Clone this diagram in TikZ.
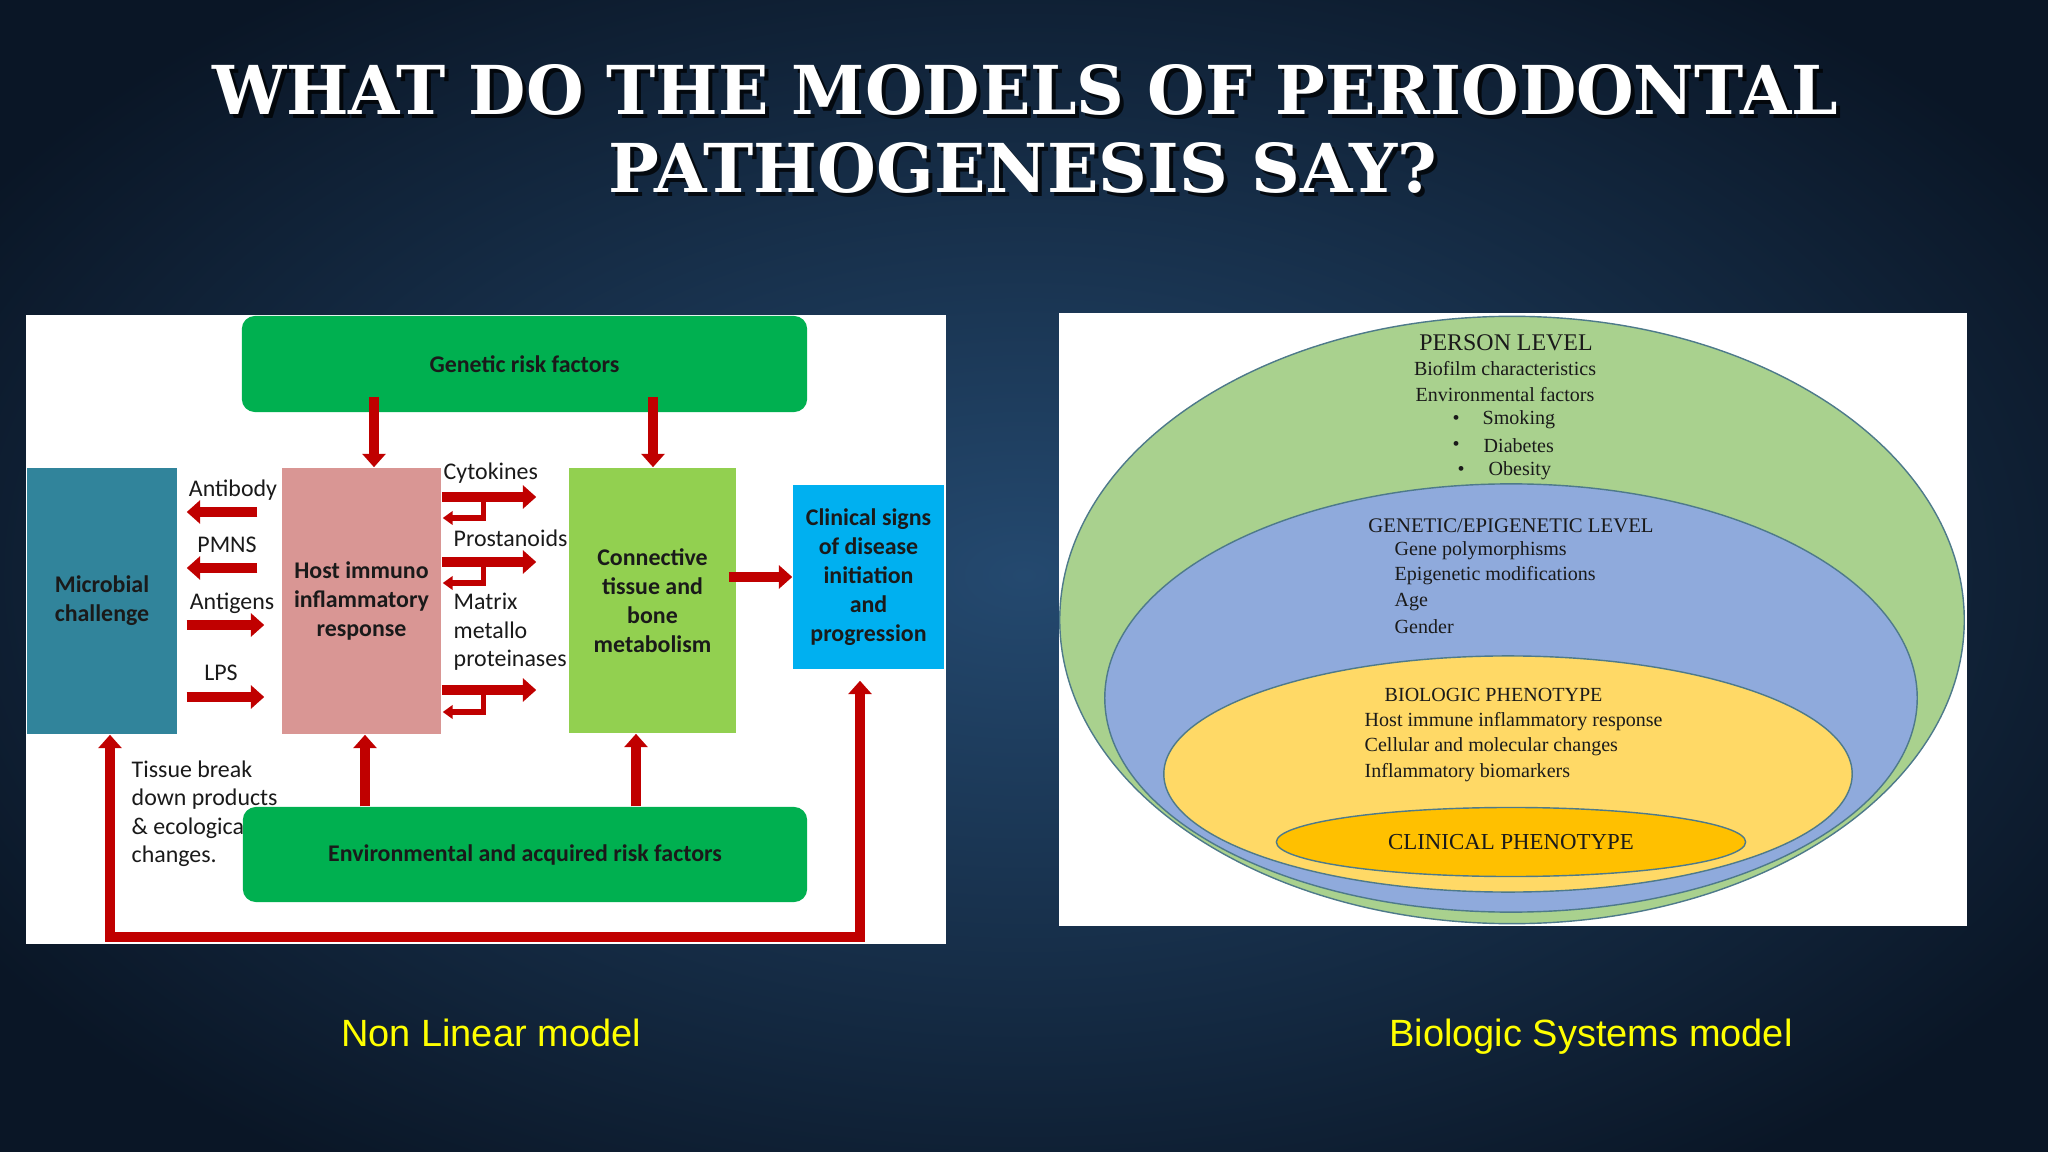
\documentclass[tikz,border=0pt]{standalone}
\usepackage{fontspec}
\setmainfont{Liberation Serif}
\newfontfamily\calib{Carlito}
\newfontfamily\arialf{Liberation Sans}
\newfontfamily\titlef{DejaVu Serif}
\usetikzlibrary{shapes.geometric,arrows.meta,calc}
\definecolor{bgin}{HTML}{24496F}
\definecolor{bgout}{HTML}{0A1626}
\definecolor{cGreen}{HTML}{00B050}
\definecolor{cMicro}{HTML}{31849B}
\definecolor{cHost}{HTML}{D99694}
\definecolor{cConn}{HTML}{92D050}
\definecolor{cClin}{HTML}{00B0F0}
\definecolor{cRed}{HTML}{C00000}
\definecolor{eGreen}{HTML}{A9D18E}
\definecolor{eBlue}{HTML}{8FAADC}
\definecolor{eYel}{HTML}{FFD966}
\definecolor{eOr}{HTML}{FFC000}
\definecolor{eLine}{HTML}{4E7A8A}
\definecolor{capY}{HTML}{FFFF00}
\definecolor{txt}{HTML}{1A1A1A}
\tikzset{
  box/.style={draw=none, inner sep=0pt, align=center, text=txt,
    font=\calib\bfseries\fontsize{6.8}{8.2}\selectfont},
  lab/.style={inner sep=0pt, text=txt, font=\calib\fontsize{6.8}{8.1}\selectfont},
  blk/.style={draw=cRed, line width=3pt, -{Triangle[width=6.5pt,length=3.8pt]}},
  hk/.style={draw=cRed, line width=1.5pt, -{Triangle[width=3.8pt,length=2.8pt]}},
  lvl/.style={ellipse, draw=eLine, line width=0.4pt, inner sep=0pt},
  rt/.style={inner sep=0pt, text=txt, font=\fontsize{5.7}{7.25}\selectfont},
  captxt/.style={inner sep=0pt, anchor=base, text=capY, font=\arialf\fontsize{10.8}{13}\selectfont},
}
\begin{document}
\begin{tikzpicture}[x=0.01cm, y=-0.01cm]
\useasboundingbox (0,0) rectangle (2048,1152);
\shade[inner color=bgin, outer color=bgout] (-200,-150) rectangle (2248,1300);

% title shadow
\node[anchor=base, inner sep=0pt, text=black, opacity=0.75] (title1s) at (1029,119)
    {\resizebox{16.25cm}{0.50cm}{\titlef\bfseries WHAT DO THE MODELS OF PERIODONTAL}};
\node[anchor=base, inner sep=0pt, text=black, opacity=0.75] (title2s) at (1027,197)
    {\resizebox{8.28cm}{0.50cm}{\titlef\bfseries PATHOGENESIS SAY?}};
\node[anchor=base, inner sep=0pt, text=white] (title1) at (1025,115)
    {\resizebox{16.25cm}{0.50cm}{\titlef\bfseries WHAT DO THE MODELS OF PERIODONTAL}};
\node[anchor=base, inner sep=0pt, text=white] (title2) at (1023,193)
    {\resizebox{8.28cm}{0.50cm}{\titlef\bfseries PATHOGENESIS SAY?}};

% ---------------- left panel ----------------
\fill[white] (26,315) rectangle (946,944);

\node[lab, align=left, anchor=north west] (tissue) at (131,760)
  {Tissue break\\down products\\\& ecological\\changes.};

\node[box, fill=cGreen, rounded corners=0.13cm, minimum width=5.65cm, minimum height=0.96cm] (gen) at (524.5,364) {Genetic risk factors};
\node[box, fill=cGreen, rounded corners=0.13cm, minimum width=5.64cm, minimum height=0.95cm] (env) at (525,854.5) {Environmental and acquired risk factors};
\node[box, fill=cMicro, minimum width=1.50cm, minimum height=2.66cm] (micro) at (102,601) {Microbial\\challenge};
\node[box, fill=cHost, minimum width=1.59cm, minimum height=2.66cm] (host) at (361.5,601) {Host immuno\\inflammatory\\response};
\node[box, fill=cConn, minimum width=1.67cm, minimum height=2.65cm] (conn) at (652.5,600.5) {Connective\\tissue and\\bone\\metabolism};
\node[box, fill=cClin, minimum width=1.51cm, minimum height=1.84cm] (clin) at (868.5,577) {Clinical signs\\of disease\\initiation\\and\\progression};

% vertical arrows
\coordinate (g1) at (374,397);
\coordinate (g2) at (653,397);
\coordinate (e1) at (365,0);
\coordinate (e2) at (636,0);
\draw[blk] (g1) -- (g1 |- host.north);
\draw[blk] (g2) -- (g2 |- conn.north);
\draw[blk] (env.north -| e1) -- (e1 |- host.south);
\draw[blk] (env.north -| e2) -- (e2 |- conn.south);
\draw[blk] ($(conn.east |- clin.west)+(-8,0)$) -- (clin.west);

% feedback loop
\coordinate (lpL) at (110,937);
\coordinate (lpR) at (860,937);
\draw[cRed, line width=2.8pt, {Triangle[width=6.5pt,length=3.8pt]}-{Triangle[width=6.5pt,length=3.8pt]}]
  (micro.south -| lpL) -- (lpL) -- (lpR) -- ($(clin.south -| lpR)+(0,11)$);

% left labels and arrows
\node[lab] (lAb) at (233,490) {Antibody};
\node[lab] (lPm) at (227,545) {PMNS};
\node[lab] (lAg) at (232,603) {Antigens};
\node[lab] (lLp) at (221,673) {LPS};
\coordinate (yAb) at (0,512);
\coordinate (yPm) at (0,568);
\coordinate (yAg) at (0,625);
\coordinate (yLp) at (0,697);
\draw[blk] ($(host.west |- yAb)+(-24,0)$) -- ($(micro.east |- yAb)+(9,0)$);
\draw[blk] ($(host.west |- yPm)+(-24,0)$) -- ($(micro.east |- yPm)+(9,0)$);
\draw[blk] ($(micro.east |- yAg)+(9,0)$) -- ($(host.west |- yAg)+(-17,0)$);
\draw[blk] ($(micro.east |- yLp)+(9,0)$) -- ($(host.west |- yLp)+(-17,0)$);

% right-of-host labels and arrows
\node[lab, anchor=west] (lCy) at (443,473) {Cytokines};
\node[lab, anchor=west] (lPr) at (453,538) {Prostanoids};
\node[lab, anchor=west, align=left] (lMm) at (453,632) {Matrix\\metallo\\proteinases};
\foreach \ya/\yb in {497/518, 562/583, 690/712} {
  \coordinate (ya) at (0,\ya);
  \coordinate (yb) at (0,\yb);
  \draw[blk] (host.east |- ya) -- ($(conn.west |- ya)+(-32,0)$);
  \draw[hk, line cap=butt] ($(host.east |- ya)+(42,0)$) |- ($(host.east |- yb)+(1,0)$);
}

% ---------------- right panel ----------------
\fill[white] (1059,313) rectangle (1967,926);
\node[lvl, fill=eGreen, minimum width=9.04cm, minimum height=6.07cm] (person) at (1512,620) {};
\node[lvl, fill=eBlue, minimum width=8.12cm, minimum height=4.28cm] (genetic) at (1511,698) {};
\node[lvl, fill=eYel, minimum width=6.88cm, minimum height=2.36cm] (bio) at (1508,774) {};
\node[lvl, fill=eOr, minimum width=4.69cm, minimum height=0.69cm] (clinph) at (1511,842) {};

\node[rt, font=\fontsize{6.8}{8}\selectfont] (pl) at (1506,343) {PERSON LEVEL};
\node[rt] (p1) at (1505,369) {Biofilm characteristics};
\node[rt] (p2) at (1505,395) {Environmental factors};
\node[rt] (bu1) at (1456,420) {•};
\node[rt, anchor=west] (p3) at (1482,420) {Smoking};
\node[rt] (bu2) at (1456,446) {•};
\node[rt, anchor=west] (p4) at (1483,446) {Diabetes};
\node[rt] (bu3) at (1461,471) {•};
\node[rt, anchor=west] (p5) at (1488,471) {Obesity};

\node[rt, font=\fontsize{5.9}{7.25}\selectfont] (gl) at (1511,526) {GENETIC/EPIGENETIC LEVEL};
\node[rt, anchor=west] (g1t) at (1394,551) {Gene polymorphisms};
\node[rt, anchor=west] (g2t) at (1394,576) {Epigenetic modifications};
\node[rt, anchor=west] (g3t) at (1394,602) {Age};
\node[rt, anchor=west] (g4t) at (1394,627) {Gender};

\node[rt, anchor=west] (bl) at (1384,695) {BIOLOGIC PHENOTYPE};
\node[rt, anchor=west] (b1t) at (1364,722) {Host immune inflammatory response};
\node[rt, anchor=west] (b2t) at (1364,747) {Cellular and molecular changes};
\node[rt, anchor=west] (b3t) at (1364,773) {Inflammatory biomarkers};

\node[rt, font=\fontsize{6.5}{8}\selectfont] (cl) at (1511,842) {CLINICAL PHENOTYPE};

% captions
\node[captxt] (capL) at (491,1046) {Non Linear model};
\node[captxt] (capR) at (1591,1046) {Biologic Systems model};
\end{tikzpicture}
\end{document}
